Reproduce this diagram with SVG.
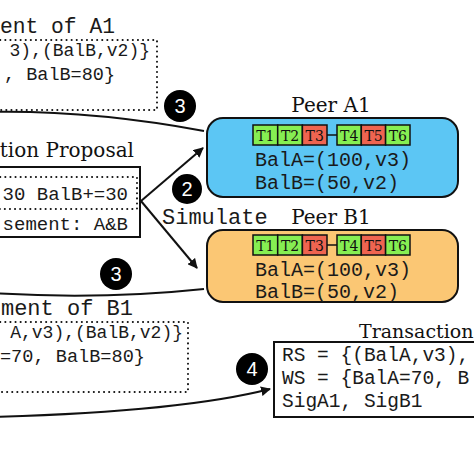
<svg xmlns="http://www.w3.org/2000/svg" width="474" height="474" viewBox="0 0 474 474">
<defs>
<style>
.mono{font-family:"Liberation Mono","Courier New",monospace;fill:#1a1a1a;}
.serif{font-family:"DejaVu Serif","Liberation Serif",serif;fill:#111;}
.dot{fill:none;stroke:#111;stroke-width:2;stroke-dasharray:0.1 5;stroke-linecap:round;}
.solid{fill:none;stroke:#111;stroke-width:2;}
.g{fill:#86EE52;stroke:#111;stroke-width:1.5;}
.r{fill:#EF6450;stroke:#111;stroke-width:1.5;}
.cell{font-family:"DejaVu Serif","Liberation Serif",serif;font-size:14px;fill:#111;text-anchor:middle;}
.badge{fill:#000;}
.bt{font-family:"Liberation Sans",Arial,sans-serif;font-size:20px;fill:#fff;text-anchor:middle;}
.conn{fill:none;stroke:#111;stroke-width:2;}
</style>
<marker id="ah" viewBox="0 0 10 10" refX="9" refY="5" markerWidth="5" markerHeight="5" orient="auto">
<path d="M0,0 L10,5 L0,10 z" fill="#111"/>
</marker>
<g id="cells">
<rect class="g" x="0" y="0" width="24.7" height="20"/>
<rect class="g" x="24.7" y="0" width="24.7" height="20"/>
<rect class="r" x="49.4" y="0" width="24.6" height="20"/>
<line x1="74" y1="10" x2="84" y2="10" stroke="#111" stroke-width="1.5"/>
<rect class="g" x="84" y="0" width="24.3" height="20"/>
<rect class="r" x="108.3" y="0" width="24.3" height="20"/>
<rect class="g" x="132.6" y="0" width="24.4" height="20"/>
<text class="cell" x="12.3" y="15.5">T1</text>
<text class="cell" x="37" y="15.5">T2</text>
<text class="cell" x="61.7" y="15.5">T3</text>
<text class="cell" x="96.2" y="15.5">T4</text>
<text class="cell" x="120.5" y="15.5">T5</text>
<text class="cell" x="144.8" y="15.5">T6</text>
</g>
</defs>
<rect width="474" height="474" fill="#fff"/>

<g id="endorsementA1">
<text class="mono" x="115" y="33" font-size="21.3" text-anchor="end">ent of A1</text>
<path class="dot" d="M-10,40 H157 V110 H-10"/>
<text class="mono" x="150" y="56" font-size="18" text-anchor="end">3),(BalB,v2)}</text>
<text class="mono" x="115" y="80" font-size="18.5" text-anchor="end">, BalB=80}</text>
</g>

<g id="proposal">
<text class="serif" x="134" y="157" font-size="20" text-anchor="end">tion Proposal</text>
<path class="solid" d="M-10,167 H140 V237 H-10"/>
<path class="dot" d="M-10,177 H137 V209 H-10"/>
<text class="mono" x="128" y="200" font-size="19" text-anchor="end">30 BalB+=30</text>
<text class="mono" x="128" y="230" font-size="19" text-anchor="end">sement: A&amp;B</text>
</g>

<g id="peerA1">
<text class="serif" x="331" y="112" font-size="20" text-anchor="middle">Peer A1</text>
<rect x="207" y="118" width="251" height="79" rx="16" fill="#5CC6F4" stroke="#111" stroke-width="2"/>
<use href="#cells" x="253" y="125"/>
<text class="mono" x="255" y="166" font-size="20">BalA=(100,v3)</text>
<text class="mono" x="255" y="189" font-size="20">BalB=(50,v2)</text>
</g>

<g id="peerB1">
<text class="mono" x="162" y="224" font-size="22">Simulate</text>
<text class="serif" x="331" y="224" font-size="20" text-anchor="middle">Peer B1</text>
<rect x="207" y="230" width="251" height="72" rx="16" fill="#FBC774" stroke="#111" stroke-width="2"/>
<use href="#cells" x="253" y="235"/>
<text class="mono" x="255" y="276" font-size="20">BalA=(100,v3)</text>
<text class="mono" x="255" y="298" font-size="20">BalB=(50,v2)</text>
</g>

<g id="endorsementB1">
<text class="mono" x="133" y="315" font-size="22" text-anchor="end">ment of B1</text>
<path class="dot" d="M-10,322 H188 V392 H-10"/>
<text class="mono" x="183" y="338" font-size="18" text-anchor="end">A,v3),(BalB,v2)}</text>
<text class="mono" x="145" y="362" font-size="18.6" text-anchor="end">=70, BalB=80}</text>
</g>

<g id="transaction">
<text class="serif" x="359" y="338" font-size="19">Transaction</text>
<rect x="274" y="342" width="220" height="75" fill="none" stroke="#111" stroke-width="2"/>
<text class="mono" x="282" y="361" font-size="19.5">RS = {(BalA,v3),</text>
<text class="mono" x="282" y="384" font-size="19.5">WS = {BalA=70, B</text>
<text class="mono" x="282" y="407" font-size="19.5">SigA1, SigB1</text>
</g>

<g id="connectors">
<path class="conn" d="M-10,112 Q90,110 204,131"/>
<line class="conn" x1="141" y1="201" x2="203" y2="148" marker-end="url(#ah)"/>
<line class="conn" x1="141" y1="201" x2="197" y2="268" marker-end="url(#ah)"/>
<path class="conn" d="M-10,293 Q100,300 204,289"/>
<path class="conn" d="M-10,417 Q180,412 270,389" marker-end="url(#ah)"/>
</g>

<g id="badges">
<circle class="badge" cx="180" cy="106" r="16"/><text class="bt" x="180" y="113">3</text>
<circle class="badge" cx="187" cy="189" r="15"/><text class="bt" x="187" y="196">2</text>
<circle class="badge" cx="116" cy="274" r="16"/><text class="bt" x="116" y="281">3</text>
<circle class="badge" cx="252" cy="369" r="16"/><text class="bt" x="252" y="376">4</text>
</g>
</svg>
